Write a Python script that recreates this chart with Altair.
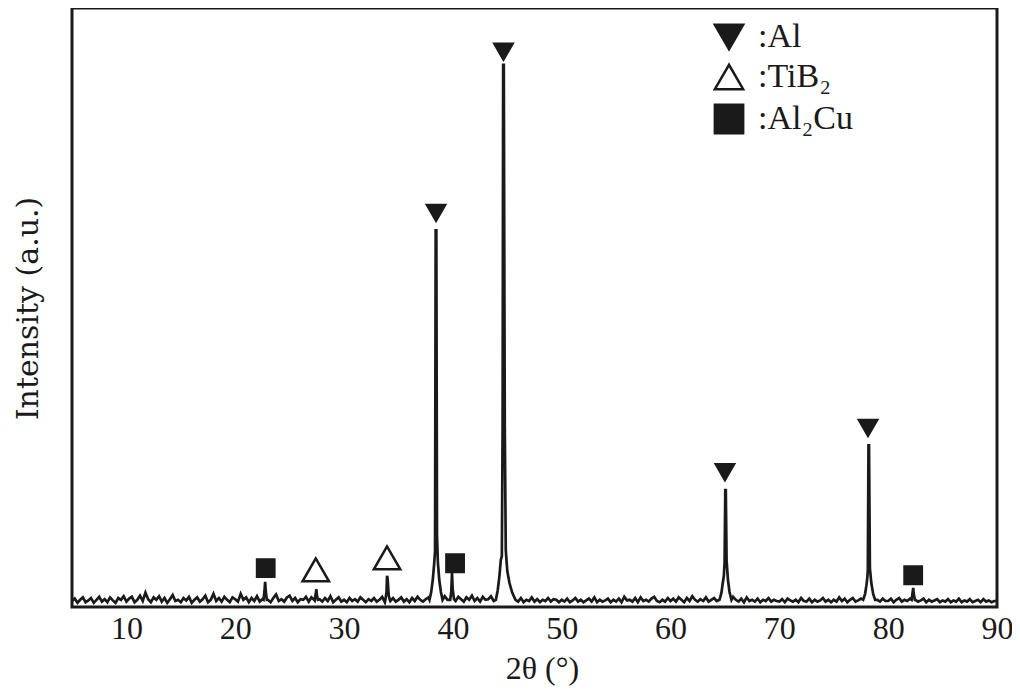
import altair as alt
import pandas as pd

# ---- baseline noise, 0.25 deg steps from 5 to 90 ----
base_start = 5.0
base_step = 0.25
base_vals = [
    10,14,7,12,16,8,11,15,7,12,17,9,13,8,16,11,7,15,12,18,
    9,14,17,8,12,19,10,24,13,8,16,12,18,9,15,7,13,20,10,12,
    8,15,11,17,7,12,16,9,13,19,8,12,22,10,15,9,17,12,8,16,
    13,9,22,12,16,8,15,10,18,9,13,17,12,8,15,21,10,13,9,16,
    19,10,15,8,13,12,17,9,16,12,20,13,9,15,10,18,8,12,16,9,
    12,8,15,10,13,9,16,12,8,13,10,15,9,12,17,8,13,10,15,9,
    12,16,9,13,8,15,10,17,12,9,13,16,8,12,15,10,13,18,12,16,
    15,10,17,13,9,16,12,19,10,15,9,17,12,13,18,10,15,12,16,13,
    12,16,10,13,9,15,8,12,10,16,9,13,8,12,10,15,9,13,12,8,
    12,9,14,8,11,15,9,12,8,11,14,9,16,8,12,9,11,14,8,12,
    9,14,8,17,11,12,9,15,8,16,10,12,9,14,17,10,8,12,9,15,
    10,14,9,16,12,8,15,10,18,12,9,13,10,16,9,12,15,10,14,12,
    12,15,10,17,12,9,14,8,16,10,12,9,14,8,12,10,15,9,12,10,
    9,13,8,14,11,9,12,8,15,10,9,14,8,12,9,11,15,9,12,8,
    12,9,16,10,14,8,12,15,9,11,14,16,12,9,15,10,12,9,14,10,
    10,14,8,12,15,9,12,10,14,8,12,9,11,14,8,12,9,11,13,8,
    11,9,13,8,11,9,14,8,11,9,13,8,10,12,8,13,9,11,8,10,
    10,
]

# ---- diffraction peaks (2theta, intensity) ----
peak_x = [
    [22.6, 22.7, 22.75, 22.8, 22.9],
    [27.3, 27.4, 27.45, 27.5, 27.6],
    [33.8, 33.9, 33.95, 34.0, 34.1, 34.2],
    [37.85, 38.0, 38.15, 38.27, 38.36, 38.42, 38.48, 38.54, 38.62, 38.75, 38.9, 39.05],
    [39.75, 39.85, 39.92, 39.98, 40.1],
    [43.95, 44.12, 44.28, 44.4, 44.5, 44.57, 44.62, 44.68, 44.72, 44.77, 44.86, 45.0, 45.2, 45.45, 45.75],
    [64.5, 64.68, 64.8, 64.9, 64.97, 65.03, 65.08, 65.15, 65.28, 65.42, 65.6],
    [77.7, 77.88, 78.0, 78.08, 78.13, 78.19, 78.24, 78.32, 78.45, 78.62, 78.8],
    [82.15, 82.25, 82.3, 82.35, 82.45],
]
peak_y = [
    [12, 30, 42, 28, 12],
    [11, 22, 30, 20, 12],
    [12, 25, 52, 48, 20, 12],
    [12, 24, 45, 70, 92, 629, 629, 120, 75, 45, 25, 12],
    [12, 25, 57, 30, 13],
    [12, 28, 52, 78, 85, 300, 905, 905, 620, 300, 95, 60, 40, 24, 12],
    [12, 24, 40, 52, 75, 195, 195, 78, 45, 25, 12],
    [12, 22, 36, 48, 62, 270, 270, 65, 40, 22, 12],
    [12, 25, 32, 22, 12],
]

# ---- phase markers ----
phase_names = [":Al", ":TiB₂", ":Al₂Cu"]
al_x = [38.45, 44.65, 65.0, 78.15]
al_y = [658, 927, 225, 299]
tib2_x = [27.4, 33.95]
tib2_y = [62, 82]
al2cu_x = [22.8, 40.2, 82.3]
al2cu_y = [65, 73, 53]
marker_sizes = [330, 700, 300]

x_ticks = [10, 20, 30, 40, 50, 60, 70, 80, 90]

# ---- assemble pattern ----
rows = []
for i, v in enumerate(base_vals):
    x = base_start + base_step * i
    if any(min(px) <= x <= max(px) for px in peak_x):
        continue
    rows.append((x, v))
for px, py in zip(peak_x, peak_y):
    rows.extend(zip(px, py))
rows.sort()
pattern = pd.DataFrame(rows, columns=["x", "y"])

mrows = []
for name, xs, ys, s in zip(phase_names, [al_x, tib2_x, al2cu_x], [al_y, tib2_y, al2cu_y], marker_sizes):
    for x, y in zip(xs, ys):
        mrows.append({"x": x, "y": y, "phase": name, "msize": s})
markers = pd.DataFrame(mrows)

xscale = alt.Scale(domain=[5, 90], nice=False, zero=False)
yscale = alt.Scale(domain=[0, 1000], nice=False)

line = alt.Chart(pattern).mark_line(color="#1a1a1a", strokeWidth=2.7, interpolate="linear").encode(
    x=alt.X("x:Q", scale=xscale,
            axis=alt.Axis(values=x_ticks, title="2θ (°)", grid=False, ticks=False, domain=False,
                          labelFont="Liberation Serif", labelFontSize=32, labelColor="#1a1a1a",
                          labelPadding=6, labelFlush=False, titleFont="Liberation Serif",
                          titleFontSize=32, titleFontWeight="normal", titleColor="#1a1a1a",
                          titlePadding=9, titleX=470)),
    y=alt.Y("y:Q", scale=yscale,
            axis=alt.Axis(labels=False, ticks=False, domain=False, grid=False,
                          title="Intensity (a.u.)", titleFont="DejaVu Serif", titleFontSize=30,
                          titleFontWeight="normal", titleColor="#1a1a1a", titlePadding=29,
                          titleY=300)),
)

leg = alt.Legend(title=None, orient="none", legendX=640, legendY=12, labelFont="Liberation Serif",
                 labelFontSize=34, labelColor="#1a1a1a", symbolSize=800, symbolStrokeWidth=2.5,
                 labelOffset=12, rowPadding=4, padding=0, labelLimit=300)

black3 = ["#1a1a1a", "#1a1a1a", "#1a1a1a"]

pts = alt.Chart(markers).mark_point(filled=True, strokeWidth=2.5, opacity=1).encode(
    x=alt.X("x:Q", scale=xscale),
    y=alt.Y("y:Q", scale=yscale),
    shape=alt.Shape("phase:N", scale=alt.Scale(domain=phase_names,
                                              range=["triangle-down", "triangle-up", "square"]),
                    legend=leg),
    fill=alt.Fill("phase:N", scale=alt.Scale(domain=phase_names,
                                            range=["#1a1a1a", "white", "#1a1a1a"]),
                  legend=leg),
    stroke=alt.Stroke("phase:N", scale=alt.Scale(domain=phase_names, range=black3), legend=leg),
    size=alt.Size("msize:Q", scale=None, legend=None),
)

chart = alt.layer(line, pts).properties(
    width=925, height=599,
    autosize=alt.AutoSizeParams(type="none"),
    padding={"left": 64, "top": 0, "right": 15, "bottom": 80},
).configure_view(stroke="#1a1a1a", strokeWidth=3)

chart.save("out.html", embed_options={"renderer": "svg", "actions": False})
